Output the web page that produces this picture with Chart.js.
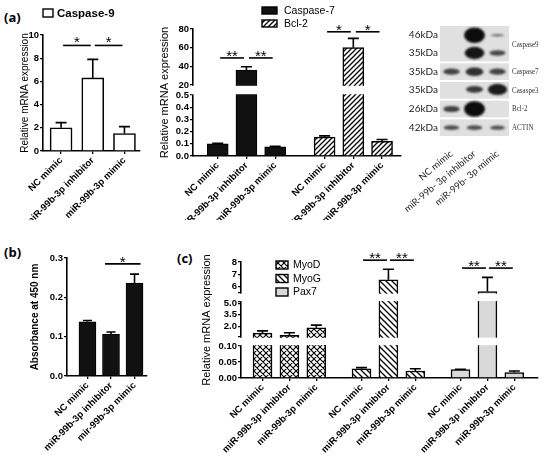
<!DOCTYPE html>
<html><head><meta charset="utf-8">
<script src="https://cdn.jsdelivr.net/npm/chart.js@4.4.1/dist/chart.umd.min.js"></script>
<style>
html,body{margin:0;padding:0;background:#fff}
body{width:550px;height:459px;overflow:hidden;position:relative}
.plab{position:absolute;font-family:'Open Sans','Liberation Sans',sans-serif;font-weight:bold;font-size:13px;color:#000;line-height:1}
</style></head>
<body>
<div class="plab" style="left:4px;top:11px">(a)</div>
<div class="plab" style="left:4px;top:246px">(b)</div>
<div class="plab" style="left:177px;top:252px">(c)</div>
<script>
// ================= DATA =================
const treatments      = ['NC mimic', 'miR-99b-3p inhibitor', 'miR-99b-3p mimic'];
const treatmentsB     = ['NC mimic', 'miR-99b-3p inhibitor', 'mir-99b-3p mimic'];
const treatmentsBlot  = ['NC mimic', 'miR-99b- 3p inhibitor', 'miR-99b- 3p mimic'];

// (a) qPCR
const casp9    = [2.0, 6.3, 1.5];
const casp9Err = [2.45, 7.9, 2.1];
const casp7    = [0.1, 36, 0.075];
const casp7Err = [0.105, 39.5, 0.08];
const bcl2     = [0.155, 60, 0.12];
const bcl2Err  = [0.165, 70, 0.135];
// (b) CCK-8
const absorb    = [0.138, 0.106, 0.236];
const absorbErr = [0.141, 0.112, 0.259];
// (c) myogenic markers
const myoD    = [1.1, 0.8, 1.8];
const myoDErr = [1.4, 1.15, 2.15];
const myoG    = [0.029, 6.55, 0.022];
const myoGErr = [0.0325, 7.4, 0.029];
const pax7    = [0.026, 5.6, 0.017];
const pax7Err = [0.0275, 6.75, 0.022];

// tick values / labels
const a1Ticks = [0, 2, 4, 6, 8, 10];
const a1TickLabels = ['0', '2', '4', '6', '8', '10'];
const a2Ticks = [0, 0.1, 0.2, 0.3, 0.4, 0.5, 20, 40, 60, 80];
const a2TickLabels = ['0.0', '0.1', '0.2', '0.3', '0.4', '0.5', '20', '40', '60', '80'];
const bTicks = [0, 0.1, 0.2, 0.3];
const bTickLabels = ['0.0', '0.1', '0.2', '0.3'];
const cTicks = [0, 0.05, 0.10, 0.6, 2.0, 3.5, 5.0, 5.2, 5.5, 6, 7, 8];
const cTickLabels = ['0.00', '0.05', '0.10', '', '2.0', '3.5', '5.0', '', '', '6', '7', '8'];

// significance brackets (category index from/to, y in data units)
const sigA1 = [{from:0, to:1, y:9.1, label:'*'}, {from:1, to:2, y:9.1, label:'*'}];
const sigA2 = [{from:0, to:1, y:49, label:'**'}, {from:1, to:2, y:49, label:'**'},
               {from:3, to:4, y:77, label:'*'},  {from:4, to:5, y:77, label:'*'}];
const sigB  = [{from:1, to:2, y:0.285, label:'*'}];
const sigC  = [{from:3, to:4, y:8.14, label:'**'}, {from:4, to:5, y:8.14, label:'**'},
               {from:6, to:7, y:7.5, label:'**'},  {from:7, to:8, y:7.5, label:'**'}];

// western blot band intensities (lane order = treatmentsBlot)
const blotProteins = ['Caspase9', 'Caspase7', 'Casaspe3', 'Bcl-2', 'ACTIN'];
const blotKDa      = ['46kDa', '35kDa', '35kDa', '35kDa', '26kDa', '42kDa'];
const bandCasp9_46 = [0, 1.0, 0.18];
const bandCasp9_35 = [0, 0.85, 0.45];
const bandCasp7    = [0.5, 0.65, 0.5];
const bandCasp3    = [0, 0.55, 0.8];
const bandBcl2     = [0.5, 1.0, 0];
const bandActin    = [0.4, 0.4, 0.36];
const blotBands    = [bandCasp9_46, bandCasp9_35, bandCasp7, bandCasp3, bandBcl2, bandActin];

// ================= LAYOUT HELPERS (positions, not data) =================
const blotRowSpan  = [[0,2],[2,3],[3,4],[4,5],[5,6]];
const blotBandY    = [0.55, 1.5, 2.5, 3.45, 4.5, 5.5];
const blotNameY    = [1.05, 2.5, 3.5, 4.5, 5.5];

const FONT = "'Liberation Sans', Arial, sans-serif";
Chart.defaults.font.family = FONT;
Chart.defaults.color = '#000';
Chart.defaults.animation = false;
Chart.defaults.events = [];
Chart.defaults.plugins.legend.display = false;
Chart.defaults.plugins.tooltip.enabled = false;

// category scale with padding and grouped gaps
class GroupCategory extends Chart.CategoryScale {
  static id = 'groupCategory';
  static defaults = Chart.CategoryScale.defaults;
  _pos(v) { const o = this.options; const g = o.groupSize || 1e9; return v + Math.floor(v / g) * (o.groupGap || 0); }
  getPixelForValue(value) {
    if (typeof value !== 'number') value = this.parse(value);
    if (value === null || value === undefined || isNaN(value)) return NaN;
    const o = this.options, n = this.getLabels().length;
    const start = -(o.padStart ?? 0.5), end = this._pos(n - 1) + (o.padEnd ?? 0.5);
    return this.left + (this._pos(value) - start) / (end - start) * this.width;
  }
}
// linear scale with broken segments
class BrokenLinear extends Chart.LinearScale {
  static id = 'brokenLinear';
  static defaults = Chart.LinearScale.defaults;
  _segs() {
    const segs = this.options.segments, gap = this.options.gapFrac || 0;
    const H = this.bottom - this.top; let cur = this.bottom; const out = [];
    for (let i = 0; i < segs.length; i++) {
      const s = segs[i]; const b = cur, t = cur - s.frac * H;
      out.push({min: s.min, max: s.max, b, t}); cur = t - gap * H;
    }
    return out;
  }
  getPixelForValue(v) {
    const L = this._segs(); let k = 0;
    for (let i = 0; i < L.length; i++) if (v >= L[i].min) k = i;
    const s = L[k];
    if (k < L.length - 1 && v > s.max) return s.t;
    return s.b - (v - s.min) / (s.max - s.min) * (s.b - s.t);
  }
  getGaps() { const L = this._segs(), g = []; for (let i = 0; i < L.length - 1; i++) g.push([L[i + 1].b, L[i].t]); return g; }
}
Chart.register(GroupCategory, BrokenLinear);

// plugins
Chart.register({
  id: 'errBars',
  afterDatasetsDraw(chart) {
    const ctx = chart.ctx;
    chart.data.datasets.forEach((ds, di) => {
      if (!ds.errTop) return;
      const meta = chart.getDatasetMeta(di); const ys = chart.scales[meta.yAxisID];
      meta.data.forEach((el, i) => {
        const v = ds.data[i], e = ds.errTop[i];
        if (v == null || e == null) return;
        const yt = ys.getPixelForValue(e), cap = ds.capWidth || 10;
        ctx.save(); ctx.strokeStyle = '#000'; ctx.lineWidth = 1.6;
        ctx.beginPath(); ctx.moveTo(el.x, el.y); ctx.lineTo(el.x, yt);
        ctx.moveTo(el.x - cap / 2, yt); ctx.lineTo(el.x + cap / 2, yt); ctx.stroke(); ctx.restore();
      });
    });
  }
});
Chart.register({
  id: 'breaks',
  afterDatasetsDraw(chart) {
    const ys = chart.scales.y; if (!ys || !ys.getGaps) return;
    const ctx = chart.ctx, ca = chart.chartArea;
    ctx.save(); ctx.fillStyle = '#fff';
    ys.getGaps().forEach(([a, b]) => { ctx.fillRect(ca.left - 2, a + 0.8, ca.right - ca.left + 4, b - a - 1.6); });
    ctx.restore();
  }
});
Chart.register({
  id: 'sig',
  afterDatasetsDraw(chart, args, o) {
    if (!o || !o.items) return;
    const xs = chart.scales.x, ys = chart.scales.y, ctx = chart.ctx;
    ctx.save(); ctx.strokeStyle = '#000'; ctx.fillStyle = '#000'; ctx.lineWidth = 1.6;
    ctx.font = "15px " + FONT; ctx.textAlign = 'center'; ctx.textBaseline = 'alphabetic';
    o.items.forEach(it => {
      const x1 = xs.getPixelForValue(it.from) + o.shrink, x2 = xs.getPixelForValue(it.to) - o.shrink;
      const y = ys.getPixelForValue(it.y);
      ctx.beginPath(); ctx.moveTo(x1, y); ctx.lineTo(x2, y); ctx.stroke();
      ctx.fillText(it.label, (x1 + x2) / 2, y + o.starDy);
    });
    ctx.restore();
  }
});
Chart.register({
  id: 'boxLegend',
  afterDraw(chart, args, o) {
    if (!o || !o.rows) return;
    const ctx = chart.ctx; ctx.save();
    ctx.font = o.font; ctx.textBaseline = 'middle'; ctx.textAlign = 'left';
    chart.data.datasets.forEach((ds, i) => {
      const yc = o.y + i * o.rowH;
      ctx.fillStyle = ds.backgroundColor; ctx.fillRect(o.x, yc - o.boxH / 2, o.boxW, o.boxH);
      ctx.strokeStyle = '#000'; ctx.lineWidth = 1.4; ctx.strokeRect(o.x, yc - o.boxH / 2, o.boxW, o.boxH);
      ctx.fillStyle = '#000'; ctx.fillText(ds.label, o.x + o.boxW + o.gap, yc + 0.5);
    });
    ctx.restore();
  }
});
Chart.register({
  id: 'blot',
  beforeDatasetsDraw(chart, args, o) {
    if (!o || !o.on) return;
    const ctx = chart.ctx, xs = chart.scales.x, ys = chart.scales.y, ca = chart.chartArea;
    ctx.save();
    blotRowSpan.forEach(([a, b]) => {
      const y1 = ys.getPixelForValue(a), y2 = ys.getPixelForValue(b);
      ctx.fillStyle = '#e0e0e0'; ctx.fillRect(ca.left, y1 + 1, ca.right - ca.left, y2 - y1 - 2);
    });
    ctx.filter = 'blur(0.9px)';
    blotBands.forEach((lv, bi) => {
      const yc = ys.getPixelForValue(blotBandY[bi]);
      lv.forEach((l, li) => {
        if (l <= 0) return;
        const xc = xs.getPixelForValue(li);
        const w = 12 + 9 * l, h = 1.5 + 14 * Math.pow(l, 1.6);
        ctx.fillStyle = 'rgba(12,12,12,' + Math.min(1, 0.45 + 0.6 * l) + ')';
        ctx.beginPath(); ctx.ellipse(xc, yc, w / 2, h / 2, 0, 0, Math.PI * 2); ctx.fill();
      });
    });
    ctx.filter = 'none';
    // kDa labels
    ctx.fillStyle = '#222'; ctx.font = "10px Lato, sans-serif"; ctx.textAlign = 'right'; ctx.textBaseline = 'middle';
    blotKDa.forEach((t, i) => ctx.fillText(t, ca.left - 2, ys.getPixelForValue(blotBandY[i])));
    // protein names (condensed serif)
    ctx.textAlign = 'left'; ctx.font = "9px 'Liberation Serif', serif"; ctx.fillStyle = '#333';
    blotProteins.forEach((t, i) => {
      ctx.save(); ctx.translate(ca.right + 3, ys.getPixelForValue(blotNameY[i])); ctx.scale(0.78, 1);
      ctx.fillText(t, 0, 0); ctx.restore();
    });
    ctx.restore();
  }
});

// ================= AXIS BUILDERS =================
function yAxis(c) {
  return {
    type: c.type || 'linear', min: c.min, max: c.max, segments: c.segments, gapFrac: c.gapFrac,
    afterBuildTicks: s => { s.ticks = c.ticks.map(v => ({value: v})); },
    afterFit: s => { s.width = c.width; },
    ticks: {autoSkip: false, padding: 1, color: '#000', font: {size: 9.5, weight: 'bold'}, callback: (v, i) => c.labels[i]},
    grid: {display: true, drawOnChartArea: false, drawTicks: true, tickLength: 3, color: '#000', lineWidth: 1.3},
    border: {display: true, color: '#000', width: 1.6},
    title: {display: true, text: c.title, color: '#000', font: {size: c.titleSize, weight: c.titleWeight || 'normal'}, padding: {top: c.titlePad, bottom: 0}}
  };
}
function xAxis(c) {
  return {
    type: 'groupCategory', offset: false, padStart: c.padStart, padEnd: c.padEnd, groupSize: c.groupSize || 99, groupGap: c.groupGap || 0,
    afterFit: s => { s.height = c.height; },
    ticks: {autoSkip: false, minRotation: 45, maxRotation: 45, padding: 1, color: '#000', font: {size: 9.5, weight: 'bold'}},
    grid: {display: true, drawOnChartArea: false, drawTicks: true, tickLength: 3, color: '#000', lineWidth: 1.3, offset: false},
    border: {display: true, color: '#000', width: 1.6}
  };
}
function hatch(kind) {
  const s = kind === 'fwd' ? 5 : 6;
  const c = document.createElement('canvas'); c.width = c.height = s; const g = c.getContext('2d');
  g.fillStyle = '#fff'; g.fillRect(0, 0, s, s);
  g.strokeStyle = '#000'; g.lineWidth = kind === 'cross' ? 1.1 : 1.3; g.beginPath();
  if (kind === 'fwd' || kind === 'cross') { g.moveTo(-1, s + 1); g.lineTo(s + 1, -1); g.moveTo(-1, 1); g.lineTo(1, -1); g.moveTo(s - 1, s + 1); g.lineTo(s + 1, s - 1); }
  if (kind === 'back' || kind === 'cross') { g.moveTo(-1, -1); g.lineTo(s + 1, s + 1); g.moveTo(s - 1, -1); g.lineTo(s + 1, 1); g.moveTo(-1, s - 1); g.lineTo(1, s + 1); }
  g.stroke();
  return g.createPattern(c, 'repeat');
}
function mk(box, config) {
  const d = document.createElement('div');
  d.style.cssText = `position:absolute;left:${box[0]}px;top:${box[1]}px;width:${box[2]}px;height:${box[3]}px`;
  const cv = document.createElement('canvas'); d.appendChild(cv); document.body.appendChild(d);
  config.options.responsive = true; config.options.maintainAspectRatio = false;
  return new Chart(cv, config);
}
const NUL3 = [null, null, null];

// ================= (a) Caspase-9 =================
mk([0, 0, 150, 220], {
  type: 'bar',
  data: {labels: treatments, datasets: [{label: 'Caspase-9', data: casp9, errTop: casp9Err, capWidth: 11,
    backgroundColor: '#fff', borderColor: '#000', borderWidth: 1.6, barThickness: 22, grouped: false}]},
  options: {
    layout: {padding: {left: 0, right: 10, top: 35, bottom: 0}},
    scales: {
      x: xAxis({padStart: 0.57, padEnd: 0.49, height: 69}),
      y: yAxis({min: 0, max: 10, ticks: a1Ticks, labels: a1TickLabels, width: 43, title: 'Relative mRNA expression', titleSize: 10, titlePad: 19})
    },
    plugins: {
      sig: {items: sigA1, shrink: 2, starDy: 1.2},
      boxLegend: {rows: true, x: 43, y: 13, rowH: 13, boxW: 10, boxH: 8, gap: 4, font: "bold 11.5px " + FONT}
    }
  }
});

// ================= (a) Caspase-7 / Bcl-2 =================
mk([140, 0, 275, 220], {
  type: 'bar',
  data: {labels: treatments.concat(treatments), datasets: [
    {label: 'Caspase-7', data: casp7.concat(NUL3), errTop: casp7Err.concat(NUL3), capWidth: 11,
     backgroundColor: '#111', borderColor: '#000', borderWidth: 1, barThickness: 21, grouped: false},
    {label: 'Bcl-2', data: NUL3.concat(bcl2), errTop: NUL3.concat(bcl2Err), capWidth: 11,
     backgroundColor: hatch('fwd'), borderColor: '#000', borderWidth: 1.5, barThickness: 21, grouped: false}
  ]},
  options: {
    layout: {padding: {left: 0, right: 14, top: 29, bottom: 0}},
    scales: {
      x: xAxis({padStart: 0.86, padEnd: 0.66, groupSize: 3, groupGap: 0.72, height: 64}),
      y: yAxis({type: 'brokenLinear', min: 0, max: 80, ticks: a2Ticks, labels: a2TickLabels, width: 53,
        segments: [{min: 0, max: 0.5, frac: 0.48}, {min: 20, max: 80, frac: 0.441}], gapFrac: 0.079,
        title: 'Relative mRNA expression', titleSize: 11, titlePad: 18})
    },
    plugins: {
      sig: {items: sigA2, shrink: 2.5, starDy: 2.8},
      boxLegend: {rows: true, x: 122, y: 10.5, rowH: 13, boxW: 15, boxH: 7, gap: 7, font: "10.5px " + FONT}
    }
  }
});

// ================= (a) Western blot =================
mk([400, 0, 150, 215], {
  type: 'bar',
  data: {labels: treatmentsBlot, datasets: [{data: NUL3}]},
  options: {
    layout: {padding: {left: 40, right: 41, top: 25, bottom: 0}},
    scales: {
      x: {type: 'category', offset: true, afterFit: s => { s.height = 78; },
          grid: {display: false}, border: {display: false},
          ticks: {autoSkip: false, minRotation: 40, maxRotation: 40, padding: 3, color: '#222', font: {family: 'Lato, sans-serif', size: 9.5}}},
      y: {display: false, min: 0, max: 6, reverse: true}
    },
    plugins: {blot: {on: true}}
  }
});

// ================= (b) Absorbance =================
mk([0, 215, 170, 244], {
  type: 'bar',
  data: {labels: treatmentsB, datasets: [{label: 'OD450', data: absorb, errTop: absorbErr, capWidth: 9,
    backgroundColor: '#111', borderColor: '#000', borderWidth: 1, barThickness: 17, grouped: false}]},
  options: {
    layout: {padding: {left: 0, right: 23, top: 43, bottom: 0}},
    scales: {
      x: xAxis({padStart: 0.87, padEnd: 0.53, height: 83}),
      y: yAxis({min: 0, max: 0.3, ticks: bTicks, labels: bTickLabels, width: 67, title: 'Absorbance at 450 nm', titleSize: 10, titleWeight: 'bold', titlePad: 29})
    },
    plugins: {sig: {items: sigB, shrink: -6, starDy: 2.8}}
  }
});

// ================= (c) MyoD / MyoG / Pax7 =================
mk([170, 215, 380, 244], {
  type: 'bar',
  data: {labels: treatments.concat(treatments, treatments), datasets: [
    {label: 'MyoD', data: myoD.concat(NUL3, NUL3), errTop: myoDErr.concat(NUL3, NUL3), capWidth: 11,
     backgroundColor: hatch('cross'), borderColor: '#000', borderWidth: 1.5, barThickness: 19, grouped: false},
    {label: 'MyoG', data: NUL3.concat(myoG, NUL3), errTop: NUL3.concat(myoGErr, NUL3), capWidth: 11,
     backgroundColor: hatch('back'), borderColor: '#000', borderWidth: 1.5, barThickness: 19, grouped: false},
    {label: 'Pax7', data: NUL3.concat(NUL3, pax7), errTop: NUL3.concat(NUL3, pax7Err), capWidth: 11,
     backgroundColor: '#d9d9d9', borderColor: '#000', borderWidth: 1.5, barThickness: 19, grouped: false}
  ]},
  options: {
    layout: {padding: {left: 0, right: 12, top: 47, bottom: 0}},
    scales: {
      x: xAxis({padStart: 0.8, padEnd: 0.88, groupSize: 3, groupGap: 0.68, height: 81}),
      y: yAxis({type: 'brokenLinear', min: 0, max: 8, ticks: cTicks, labels: cTickLabels, width: 71,
        segments: [{min: 0, max: 0.1, frac: 0.276}, {min: 0.6, max: 5.2, frac: 0.302}, {min: 5.5, max: 8, frac: 0.267}], gapFrac: 0.078,
        title: 'Relative mRNA expression', titleSize: 11, titlePad: 30})
    },
    plugins: {
      sig: {items: sigC, shrink: 1.5, starDy: 2.8},
      boxLegend: {rows: true, x: 106, y: 50, rowH: 13.5, boxW: 12, boxH: 8, gap: 5, font: "10.5px " + FONT}
    }
  }
});
</script>
</body></html>
